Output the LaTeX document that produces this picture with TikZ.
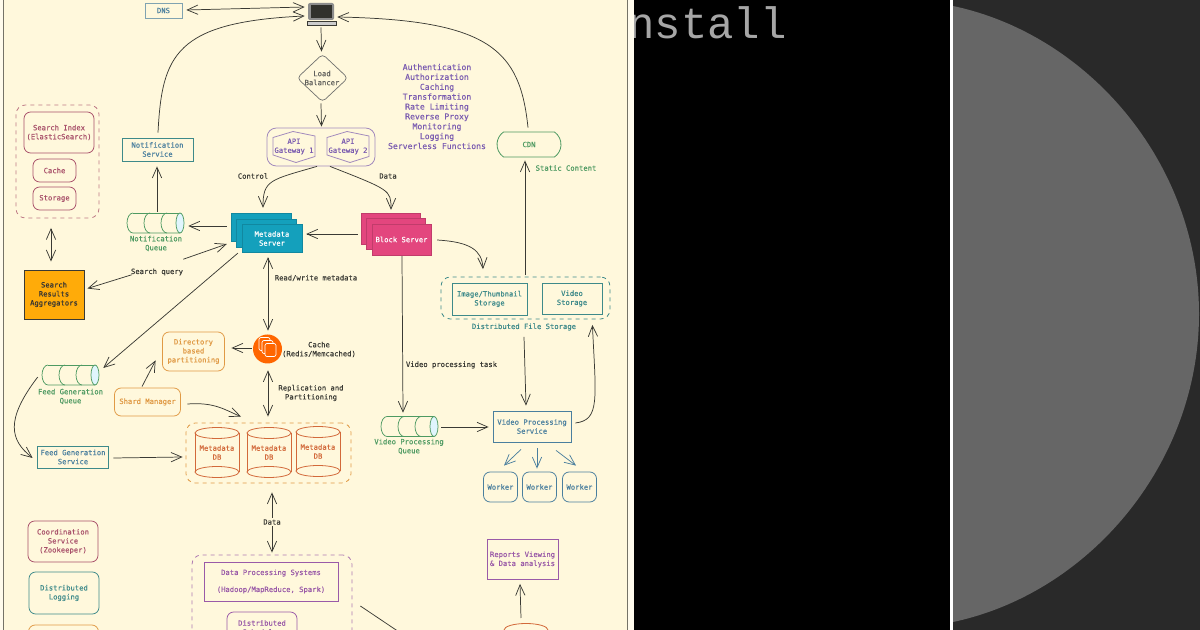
\documentclass[tikz,border=0pt]{standalone}
\usepackage{fontspec}
\setmainfont[FakeBold=0.2]{DejaVu Sans Mono}
\newfontfamily\termfont{Liberation Mono}
\usetikzlibrary{arrows.meta,shapes.geometric,shapes.misc,calc}
\definecolor{paper}{HTML}{FFF8DC}
\definecolor{cBlue}{HTML}{4A7F9E}
\definecolor{cTeal}{HTML}{3E8A8A}
\definecolor{cGreen}{HTML}{4E9A62}
\definecolor{cRed}{HTML}{A8506A}
\definecolor{cOrange}{HTML}{E09A45}
\definecolor{cDeep}{HTML}{D2693A}
\definecolor{cPurple}{HTML}{7A5BB0}
\definecolor{cMag}{HTML}{9A5AA8}
\definecolor{cInk}{HTML}{3A3A34}
\definecolor{cCyan}{HTML}{14A0BC}
\definecolor{cPink}{HTML}{E3467E}
\definecolor{cAmber}{HTML}{FFAB09}
\tikzset{
 x=0.75pt,y=-0.75pt,
 lab/.style={font=\fontsize{5.4}{6.75}\selectfont,align=center,inner sep=0pt,text=cInk},
 wire/.style={cInk,line width=.55pt,-{Straight Barb[length=8pt,width=7pt]}},
 wire2/.style={cInk,line width=.55pt,{Straight Barb[length=8pt,width=7pt]}-{Straight Barb[length=8pt,width=7pt]}},
 dashbox/.style={draw,dashed,line width=.6pt,rounded corners=7pt},
}
\newcommand{\rrbox}[7]{% name,x,y,w,h,colour,text
 \node[lab,draw=#6,text=#6,line width=.6pt,rounded corners=5pt,minimum width=#4*.75pt,minimum height=#5*.75pt] (#1) at (#2,#3) {#7};}
\newcommand{\sqbox}[7]{%
 \node[lab,draw=#6,text=#6,line width=.6pt,minimum width=#4*.75pt,minimum height=#5*.75pt] (#1) at (#2,#3) {#7};}
\newcommand{\queue}[3]{% name,x-left,y-centre
 \node[inner sep=0pt,minimum width=57*.75pt,minimum height=20*.75pt] (#1) at (#2+28.5,#3) {};
 \begin{scope}[shift={(#2,#3)},draw=cGreen,line width=.55pt]
 \draw (6,-10) arc (270:90:6 and 10) -- (53,10);
 \draw (6,-10) -- (53,-10);
 \draw (23,-10) arc (270:90:6 and 10);
 \draw (40,-10) arc (270:90:6 and 10);
 \draw[fill=white!88!cyan] (53,-10) arc (-90:90:4 and 10) arc (90:270:4 and 10);
 \end{scope}}
\newcommand{\dbcyl}[3]{%
 \begin{scope}[shift={(#2,#3)},draw=cDeep,line width=.6pt]
 \draw (-22,-19.5) -- (-22,19.5) (22,-19.5) -- (22,19.5);
 \draw (0,-19.5) ellipse (22 and 5.5);
 \draw (0,19.5) ellipse (22 and 5.5);
 \node[lab,text=cDeep] (#1) at (0,0) {Metadata\\DB};
 \end{scope}}
\newcommand{\stackbox}[7]{% name,x,y,w,h,colour,text
 \foreach \d in {0,1} {\fill[#6,draw=#6!85!black,line width=.3pt] (#2-#4/2-11+\d*5.5,#3-#5/2-11+\d*5.5) rectangle ++(#4,#5);}
 \node[lab,fill=#6,draw=#6!85!black,line width=.3pt,text=white,minimum width=#4*.75pt,minimum height=#5*.75pt] (#1) at (#2,#3) {#7};}
\begin{document}
\begin{tikzpicture}
\useasboundingbox (0,0) rectangle (1200,630);
% panels
\fill[black] (633.5,0) rectangle (950,630);
\fill[white] (950,0) rectangle (953,630);
\fill[black!84] (953,0) rectangle (1200,630);
\fill[black!60] (953,6) .. controls (1090,35) and (1199,165) .. (1199,314) .. controls (1199,463) and (1090,593) .. (953,622) -- cycle;
\node[font=\termfont\fontsize{33}{33}\selectfont,text=black!35!white,anchor=base west,inner sep=0pt] (inst) at (628,39) {nstall};
\fill[paper!55!white] (0,0) rectangle (633.5,630);
\fill[paper] (4,0) rectangle (627,630);
\draw[cInk!70!paper,line width=.6pt] (3.5,0) -- (3.5,630) (627,0) -- (627,630);

% client
\node[inner sep=0pt,minimum width=20pt,minimum height=18pt] (client) at (321,12) {};
\fill[black!20,draw=cInk,line width=.5pt] (307,21) rectangle (336,25);
\fill[black!45,rounded corners=1.5pt] (308,3) rectangle (334,20);
\fill[cInk!85!black] (310.5,5) rectangle (332,18);

\sqbox{dns}{163.5}{10.5}{37}{15}{cBlue!70!paper,text=cBlue}{DNS}
\node[diamond,draw=cInk!70,line width=.55pt,rounded corners=3pt,minimum width=51*.75pt,minimum height=48*.75pt,inner sep=0pt] (lb) at (322.5,78) {};
\node[lab,text=cInk!80] (lbt) at (322,78) {Load\\Balancer};
\node[draw=cPurple!70!paper,line width=.6pt,rounded corners=7pt,minimum width=108*.75pt,minimum height=38*.75pt] (gw) at (321,147) {};
\foreach \nm/\cx/\tx in {gwa/294/API\\Gateway 1,gwb/348/API\\Gateway 2}{
 \draw[cPurple!70!paper,line width=.6pt] (\cx-21,137.5) -- (\cx-1,131.5) -- (\cx+21,136) -- (\cx+21,156.5) -- (\cx+2,162.5) -- (\cx-21,155) -- cycle;
 \node[lab,text=cPurple] (\nm) at (\cx,146.5) {\tx};
}
\node[lab,font=\fontsize{6.1}{7.4}\selectfont,text=cPurple] (feat) at (437,106.5) {Authentication\\Authorization\\Caching\\Transformation\\Rate Limiting\\Reverse Proxy\\Monitoring\\Logging\\Serverless Functions};
\node[lab,rounded rectangle,rounded rectangle arc length=110,draw=cGreen,text=cGreen,line width=.6pt,minimum width=64*.75pt,minimum height=25*.75pt,inner sep=0pt] (cdn) at (529,144.5) {CDN};
\node[lab,text=cGreen] (static) at (566,168) {Static Content};

\sqbox{notif}{157.5}{149.5}{71}{23}{cTeal,text=cBlue}{Notification\\Service}
\queue{nq}{127}{223}
\node[lab,text=cGreen] (nql) at (156,243.5) {Notification\\Queue};

% search group
\draw[dashbox,cRed!75!paper] (16,105) rectangle (99,218);
\coordinate (sgs) at (51,218);
\rrbox{si}{59}{132.5}{70}{41}{cRed}{Search Index\\(ElasticSearch)}
\rrbox{cache}{54.5}{170.5}{43}{23}{cRed}{Cache}
\rrbox{stor}{54.5}{198.5}{43}{23}{cRed}{Storage}
\node[lab,fill=cAmber,draw=cInk,line width=.7pt,minimum width=60*.75pt,minimum height=49*.75pt,text=black!80] (sra) at (54,294.5) {Search\\Results\\Aggregators};

\stackbox{meta}{272}{238.5}{60}{28}{cCyan}{Metadata\\Server}
\stackbox{block}{401.5}{239.5}{59}{31}{cPink}{Block Server}

\node[lab] (sq) at (157,272) {Search query};
\node[lab] (ctrl) at (253,176) {Control};
\node[lab] (dat) at (388,176) {Data};
\node[lab] (rw) at (316,278) {Read/write metadata};

\node[circle,fill=orange!80!red,inner sep=0pt,minimum size=29*.75pt] (redis) at (267.5,349) {};
\foreach \d in {-3,0,3} \draw[white,fill=orange!80!red,line width=.5pt,rounded corners=1.5pt] (262+\d,340.5+\d) rectangle ++(11,13);
\node[lab] (cachel) at (319,349.5) {Cache\\(Redis/Memcached)};
\node[lab] (repl) at (311,393) {Replication and\\Partitioning};
\rrbox{dir}{193.5}{351.5}{62}{39}{cOrange}{Directory\\based\\partitioning}
\rrbox{shard}{147.5}{402}{66}{28}{cOrange}{Shard Manager}
\queue{fq}{42}{375}
\node[lab,text=cGreen] (fql) at (70.5,396.5) {Feed Generation\\Queue};
\sqbox{feed}{73}{457}{71}{22}{cTeal,text=cBlue}{Feed Generation\\Service}
\node[dashbox,cOrange,minimum width=165*.75pt,minimum height=60*.75pt] (dbg) at (268.5,453) {};
\dbcyl{db1}{217}{452.5}\dbcyl{db2}{269}{452.5}\dbcyl{db3}{318}{451.5}

\rrbox{coord}{63}{541.5}{70}{41}{cRed}{Coordination\\Service\\(Zookeeper)}
\rrbox{dlog}{64}{593}{70}{42}{cTeal}{Distributed\\Logging}
\rrbox{misc}{63.5}{650}{70}{50}{cOrange}{}

\node[dashbox,cMag!80!paper,minimum width=160*.75pt,minimum height=105*.75pt] (dpg) at (272,607.5) {};
\sqbox{dps}{271}{581.5}{134}{39}{cMag}{Data Processing Systems\\[6pt](Hadoop/MapReduce, Spark)}
\node[draw=cMag,line width=.6pt,rounded corners=5pt,minimum width=70*.75pt,minimum height=50*.75pt] (dist) at (262,637) {};
\node[lab,text=cMag] (distl) at (262,627.5) {Distributed\\Scheduler};

\node[dashbox,cTeal,minimum width=169*.75pt,minimum height=42*.75pt] (dfsg) at (525.5,298) {};
\sqbox{img}{489.5}{299}{75}{32}{cTeal}{Image/Thumbnail\\Storage}
\sqbox{vid}{572}{298.5}{60}{31}{cTeal}{Video\\Storage}
\node[lab,text=cTeal] (dfs) at (524,327) {Distributed File Storage};
\node[lab] (vpt) at (451.5,365) {Video processing task};
\queue{vq}{381}{426.5}
\node[lab,text=cGreen] (vql) at (409,446.5) {Video Processing\\Queue};
\sqbox{vps}{532}{426.5}{78}{31}{cBlue}{Video Processing\\Service}
\rrbox{w1}{500.5}{487}{34}{30}{cBlue}{Worker}
\rrbox{w2}{539.5}{487}{34}{30}{cBlue}{Worker}
\rrbox{w3}{579.5}{487}{34}{30}{cBlue}{Worker}
\sqbox{rep}{522.5}{559.5}{71}{40}{cMag}{Reports Viewing\\\& Data analysis}
\draw[cDeep,line width=.6pt] (504,632) -- (504,630) arc (180:360:22 and 6.5) -- (548,632);
\coordinate (repdb) at (521,618);
\coordinate (dbtarget) at (408,638);

% connectors
\draw[wire2] ($(dns.east)+(4,-.5)$) -- ($(client.west)+(-2.7,-5)$);
\draw[wire] ($(notif.north)+(.5,-5)$) .. controls (162,55) and (175,22) .. ($(client.west)+(-2.7,4)$);
\draw[wire] ($(cdn.north)+(-1,-4)$) .. controls (520,50) and (490,20) .. ($(client.east)+(2.7,5)$);
\draw[wire] ($(client.south)+(0,3)$) -- ($(lb.north)+(-1,-2)$);
\draw[wire] ($(lb.south)+(-1.5,1)$) -- ($(gw.north)+(.5,-1)$);
\draw[wire] ($(gw.south)+(-4,0)$) .. controls (270,180) and (263,180) .. ($(meta.north)+(-9,-16.5)$);
\draw[wire] ($(gw.south)+(9,0)$) .. controls (390,190) and (391,190) .. ($(block.north)+(-10.5,-14)$);
\draw[wire] ($(meta.west)+(-15,-12.5)$) -- ($(nq.east)+(4,3)$);
\draw[wire] ($(nq.north)+(1.5,-1)$) -- ($(notif.south)+(-.5,5)$);
\draw[wire] ($(sq.north east)+(0,-9)$) -- ($(meta.west)+(-15,5.5)$);
\draw[wire] ($(sq.south west)+(1,-1)$) -- ($(sra.east)+(3,-6)$);
\draw[wire2] ($(sgs)+(0,10)$) -- ($(sra.north)+(-3,-8)$);
\draw[wire] ($(block.west)+(-14,-5.5)$) -- ($(meta.east)+(4,-4.5)$);
\draw[wire] ($(block.east)+(6,.5)$) .. controls (470,242) and (482,250) .. ($(dfsg.north)+(-42.5,-7.5)$);
\draw[wire] ($(block.south)+(.5,1)$) -- ($(vq.north)+(-6.5,-3.5)$);
\draw[wire] ($(dfsg.north)+(-.5,-1.5)$) -- ($(cdn.south)+(-4,3)$);
\draw[wire2] ($(meta.south)+(-4,4.5)$) -- ($(redis.north)+(.5,-3.5)$);
\draw[wire] ($(meta.south west)+(-4,.5)$) -- ($(fq.east)+(4,-7)$);
\draw[wire] ($(redis.west)+(-1,-1)$) -- ($(dir.east)+(6.5,-3.5)$);
\draw[wire2] ($(redis.south)+(.5,6.5)$) -- ($(dbg.north)+(-.5,-6)$);
\draw[wire] ($(shard.north)+(-5.5,-1)$) -- ($(dir.south west)+(-6.5,-11)$);
\draw[wire] ($(shard.east)+(6.5,2)$) .. controls (215,402) and (225,410) .. ($(dbg.north)+(-27.5,-6)$);
\draw[wire] ($(fq.west)+(-4,2)$) .. controls (5,420) and (10,440) .. ($(feed.west)+(-4.5,1)$);
\draw[wire] ($(feed.east)+(4.5,1)$) -- ($(dbg.west)+(-3,4)$);
\draw[wire2] ($(dbg.south)+(3.5,9)$) -- ($(dpg.north)+(0,-2)$);
\draw[wire] ($(dfs.south)+(0,6)$) -- ($(vps.north)+(-6,-5)$);
\draw[wire] ($(vq.east)+(3,.5)$) -- ($(vps.west)+(-4,.5)$);
\draw[wire] ($(vps.east)+(4,-3.5)$) .. controls (600,420) and (596,400) .. ($(dfsg.east)+(-18,27)$);
\draw[wire,cBlue] ($(vps.south)+(-11,7)$) -- ($(w1.north)+(3.5,-6)$);
\draw[wire,cBlue] ($(vps.south)+(5,6)$) -- ($(w2.north)+(-2.5,-3)$);
\draw[wire,cBlue] ($(vps.south)+(24,8)$) -- ($(w3.north)+(-3.5,-6)$);
\draw[wire] (repdb) -- ($(rep.south)+(-2.5,4)$);
\draw[cInk,line width=.55pt] ($(dpg.east)+(8,-1.5)$) -- (dbtarget);
\node[lab,fill=paper,inner ysep=1pt] (dl) at (272,522) {Data};
\end{tikzpicture}
\end{document}
